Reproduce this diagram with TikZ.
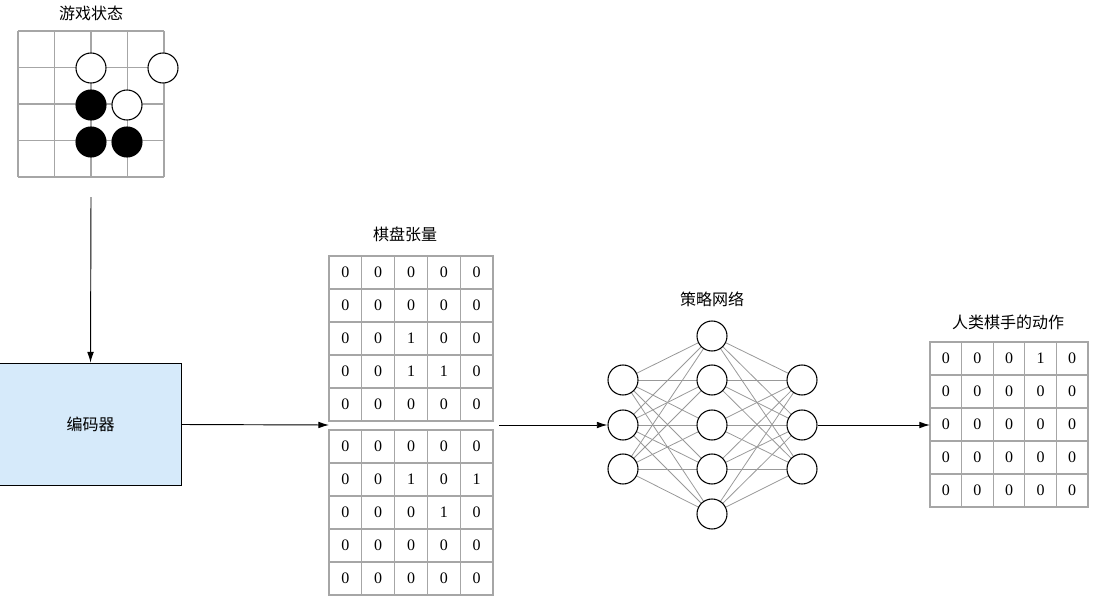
\documentclass[tikz,border=0pt]{standalone}
\usepackage{fontspec}
\setmainfont{Liberation Serif}
\newfontfamily\cjk{Noto Sans CJK SC}
\usetikzlibrary{arrows.meta}
\definecolor{encblue}{RGB}{214,234,250}
\tikzset{
  cell/.style={draw=gray!70, line width=0.8pt},
  stone/.style={draw=black, line width=0.8pt, circle, minimum size=22.5pt, inner sep=0pt},
  neuron/.style={draw=black, line width=0.8pt, circle, minimum size=22.5pt, inner sep=0pt, fill=white},
  title/.style={font=\cjk\fontsize{12}{14}\selectfont},
  flow/.style={-{Latex[length=8pt,width=5pt]}, line width=0.7pt},
}
\newcommand{\tensorgrid}[4]{% x0, y0, cell width, rows
  \foreach \row [count=\r from 0] in {#4} {
    \foreach \v [count=\c from 0] in \row {
      \draw [cell] ({#1+\c*#3},{#2+\r*33}) rectangle ++(#3,33);
      \node [font=\fontsize{12}{14}\selectfont] at ({#1+\c*#3+#3/2},{#2+\r*33+16.5}) {\v};
    }
  }
}
\begin{document}
\begin{tikzpicture}[x=0.75pt,y=-0.75pt]
  \useasboundingbox (0,0) rectangle (1095,596);
  % board
  \node [title] (boardlbl) at (91,13) {游戏状态};
  \foreach \i in {0,...,4} {
    \draw [cell] ({18+\i*36.5},31) -- ({18+\i*36.5},177);
    \draw [cell] (18,{31+\i*36.5}) -- (164,{31+\i*36.5});
  }
  \node [stone, fill=white] (w1) at (91,68) {};
  \node [stone, fill=white] (w2) at (163,68) {};
  \node [stone, fill=black] (b1) at (91,105) {};
  \node [stone, fill=white] (w3) at (127,105) {};
  \node [stone, fill=black] (b2) at (91,142) {};
  \node [stone, fill=black] (b3) at (127,142) {};
  \coordinate (boardout) at (91,197);
  % encoder
  \node [draw, line width=0.8pt, fill=encblue, minimum width=136pt, minimum height=92pt, title] (enc) at (90.5,424.5) {编码器};
  \draw [flow] (boardout) -- (enc.north);
  % board tensor
  \node [title] (tenslbl) at (405,234) {棋盘张量};
  \tensorgrid{329}{256}{32.8}{{0,0,0,0,0},{0,0,0,0,0},{0,0,1,0,0},{0,0,1,1,0},{0,0,0,0,0}}
  \tensorgrid{329}{430}{32.8}{{0,0,0,0,0},{0,0,1,0,1},{0,0,0,1,0},{0,0,0,0,0},{0,0,0,0,0}}
  \coordinate (tensin) at (329,425);
  \coordinate (tensout) at (499,425);
  \draw [flow] (enc.east) -- (tensin);
  % policy network
  \node [title] (netlbl) at (712,299) {策略网络};
  \foreach \y [count=\i] in {380,425,469} {
    \coordinate (l\i) at (623,\y);
    \coordinate (r\i) at (802,\y);
  }
  \foreach \y [count=\j] in {336,380,425,469,514}
    \coordinate (m\j) at (712,\y);
  \foreach \i in {1,2,3}
    \foreach \j in {1,...,5} {
      \draw [gray!80, line width=0.6pt] (l\i) -- (m\j);
      \draw [gray!80, line width=0.6pt] (m\j) -- (r\i);
    }
  \foreach \i in {1,2,3} {
    \node [neuron] (nl\i) at (l\i) {};
    \node [neuron] (nr\i) at (r\i) {};
  }
  \foreach \j in {1,...,5}
    \node [neuron] (nm\j) at (m\j) {};
  \draw [flow] (tensout) -- (nl2.west);
  % human move
  \node [title] (movelbl) at (1008,322) {人类棋手的动作};
  \tensorgrid{930}{342}{31.6}{{0,0,0,1,0},{0,0,0,0,0},{0,0,0,0,0},{0,0,0,0,0},{0,0,0,0,0}}
  \coordinate (movein) at (930,425);
  \draw [flow] (nr2.east) -- (movein);
\end{tikzpicture}
\end{document}
